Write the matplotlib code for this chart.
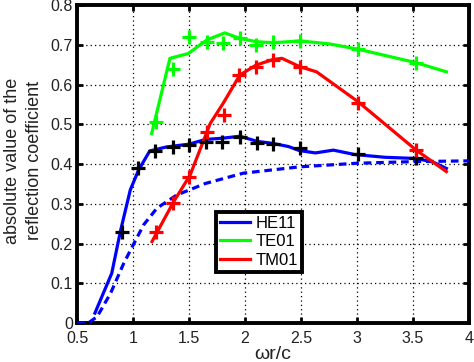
import matplotlib
matplotlib.use("Agg")
import matplotlib.pyplot as plt

# HE11 solid curve
he11_x = [0.66, 0.81, 0.887, 0.976, 1.05, 1.15, 1.3, 1.5, 1.65, 1.8, 1.955, 2.11, 2.25, 2.39, 2.485, 2.63, 2.79, 2.98, 3.25, 3.53, 3.68, 3.80]
he11_y = [0.025, 0.125, 0.23, 0.335, 0.385, 0.433, 0.443, 0.45, 0.462, 0.465, 0.47, 0.457, 0.452, 0.444, 0.434, 0.428, 0.435, 0.424, 0.417, 0.414, 0.405, 0.389]
# HE11 dashed curve
he11d_x = [0.5, 0.6, 0.68, 0.80, 0.917, 0.99, 1.095, 1.214, 1.39, 1.646, 1.985, 2.49, 3.0, 3.5, 4.0]
he11d_y = [0.0, 0.0, 0.016, 0.075, 0.15, 0.19, 0.247, 0.289, 0.322, 0.351, 0.377, 0.393, 0.402, 0.406, 0.408]
# HE11 markers
he11m_x = [0.90, 1.045, 1.196, 1.357, 1.5, 1.65, 1.795, 1.955, 2.107, 2.25, 2.49, 3.01, 3.527]
he11m_y = [0.229, 0.39, 0.432, 0.443, 0.448, 0.455, 0.455, 0.468, 0.453, 0.45, 0.44, 0.425, 0.415]

# TE01 curve
te01_x = [1.167, 1.33, 1.494, 1.658, 1.82, 1.955, 2.10, 2.25, 2.40, 2.49, 2.76, 3.01, 3.53, 3.80]
te01_y = [0.477, 0.666, 0.678, 0.712, 0.73, 0.716, 0.708, 0.705, 0.708, 0.71, 0.702, 0.689, 0.655, 0.632]
te01m_x = [1.205, 1.36, 1.5, 1.658, 1.806, 1.955, 2.10, 2.25, 2.49, 3.01, 3.53]
te01m_y = [0.506, 0.638, 0.719, 0.708, 0.704, 0.716, 0.70, 0.708, 0.71, 0.689, 0.655]

# TM01 curve
tm01_x = [1.17, 1.363, 1.51, 1.69, 1.806, 1.955, 2.10, 2.25, 2.33, 2.49, 2.64, 3.01, 3.53, 3.80]
tm01_y = [0.205, 0.305, 0.372, 0.502, 0.553, 0.624, 0.649, 0.663, 0.666, 0.645, 0.632, 0.557, 0.435, 0.381]
tm01m_x = [1.205, 1.36, 1.503, 1.658, 1.81, 1.95, 2.10, 2.25, 2.49, 3.01, 3.53]
tm01m_y = [0.23, 0.303, 0.368, 0.481, 0.523, 0.624, 0.645, 0.662, 0.645, 0.553, 0.435]

xticks = [0.5, 1, 1.5, 2, 2.5, 3, 3.5, 4]
xticklabels = ["0.5", "1", "1.5", "2", "2.5", "3", "3.5", "4"]
yticks = [0, 0.1, 0.2, 0.3, 0.4, 0.5, 0.6, 0.7, 0.8]
yticklabels = ["0", "0.1", "0.2", "0.3", "0.4", "0.5", "0.6", "0.7", "0.8"]

plt.rcParams['font.family'] = ['Liberation Sans', 'DejaVu Sans']
fig = plt.figure(figsize=(4.74, 3.62), dpi=100)
ax = fig.add_axes([0.1625, 0.1077, 0.8265, 0.8783])

lw = 2.3
ms = 10
mew = 2.3
l1, = ax.plot(he11_x, he11_y, color=(0, 0, 1), lw=lw, label="HE11", zorder=3)
ax.plot(he11d_x, he11d_y, color=(0, 0, 1), lw=lw, ls=(0, (2.4, 1.5)), zorder=3)
l2, = ax.plot(te01_x, te01_y, color=(0, 1, 0), lw=lw, label="TE01", zorder=3)
l3, = ax.plot(tm01_x, tm01_y, color=(1, 0, 0), lw=lw, label="TM01", zorder=3)
ax.plot(he11m_x, he11m_y, ls="none", marker="+", ms=ms, mew=mew, color="black", zorder=4)
ax.plot(te01m_x, te01m_y, ls="none", marker="+", ms=ms, mew=mew, color=(0, 1, 0), zorder=4)
ax.plot(tm01m_x, tm01m_y, ls="none", marker="+", ms=ms, mew=mew, color=(1, 0, 0), zorder=4)

ax.set_xlim(0.5, 4)
ax.set_ylim(0, 0.8)
ax.set_xticks(xticks)
ax.set_xticklabels(xticklabels)
ax.set_yticks(yticks)
ax.set_yticklabels(yticklabels)
ax.tick_params(direction="in", length=4, width=2, labelsize=11.5, pad=3,
               top=True, right=True, colors="black", labelcolor="#222222")
ax.tick_params(axis="x", pad=6)
ax.grid(True, color="black", ls=(0, (1, 2.5)), lw=0.9)
for s in ax.spines.values():
    s.set_linewidth(2.8)

ax.set_ylabel("absolute value of the\nreflection coefficient", fontsize=13,
              color="#222222", linespacing=1.35)
ax.yaxis.set_label_coords(-0.088, 0.51)
ax.set_xlabel("ωr/c", fontsize=14, color="#222222", labelpad=0)

leg = ax.legend(handles=[l1, l2, l3], loc="upper left", bbox_to_anchor=(0.355, 0.35),
                fontsize=12, frameon=True, fancybox=False, handlelength=1.8,
                handletextpad=0.3, borderpad=0.25, labelspacing=0.2, borderaxespad=0)
leg.get_frame().set_edgecolor("black")
leg.get_frame().set_linewidth(2.8)
leg.get_frame().set_alpha(1)

fig.savefig("out.png", dpi=100)
